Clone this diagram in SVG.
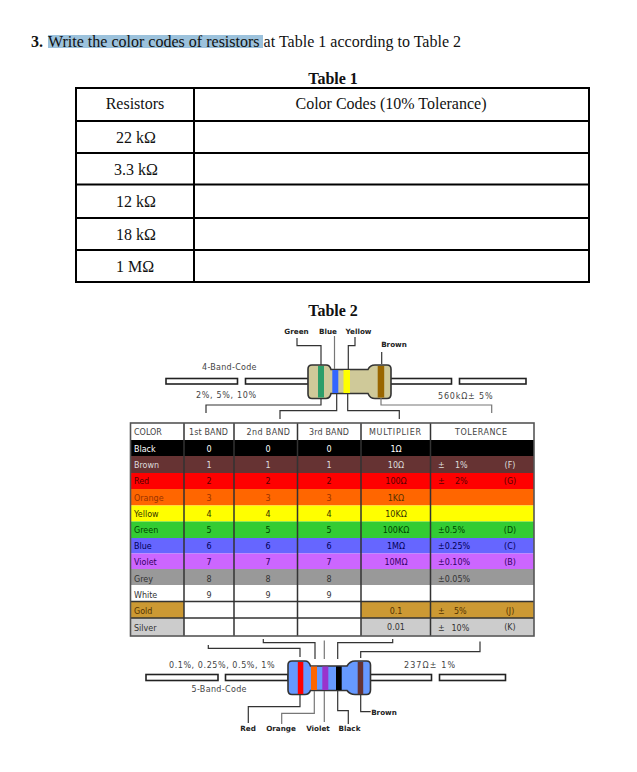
<svg xmlns="http://www.w3.org/2000/svg" width="637" height="772" viewBox="0 0 637 772">
<style>
.s{font-family:"Liberation Serif","Times New Roman",serif;fill:#111;font-size:16px}
.b{font-weight:bold}
.m{text-anchor:middle}
.t{font-family:"DejaVu Sans",Verdana,sans-serif;font-size:8px;fill:#444}
.l{font-family:"DejaVu Sans",Verdana,sans-serif;font-size:7.200px;font-weight:bold;fill:#222}
.line{fill:none;stroke:#000;stroke-width:2}
.wire{fill:#fff;stroke:#222;stroke-width:1.6}
.body{stroke:#333;stroke-width:1.6}
.c{fill:none;stroke:#333;stroke-width:1.2}
.g{fill:none;stroke:#777;stroke-width:1.2}
.d{fill:none;stroke:#333;stroke-width:1.5}
.k{fill:#fff}.n{fill:#ddd}.r{fill:#500}.o{fill:#930}.y{fill:#330}.e{fill:#040}.u{fill:#005}.v{fill:#306}.a{fill:#333}.h{fill:#530}
</style>
<g id="question">
<rect x="48" y="35" width="215" height="13" fill="#9cc2dc"/>
<text class="s b" x="31" y="47">3.</text>
<text class="s" x="48" y="47" textLength="413">Write the color codes of resistors at Table 1 according to Table 2</text>
</g>
<g id="table1">
<text class="s b m" x="333" y="84">Table 1</text>
<rect class="line" x="76" y="88" width="513" height="194"/>
<path class="line" d="M194 88V282M76 121H589M76 153H589M76 184.500H589M76 218H589M76 250H589"/>
<text class="s m" x="135" y="109">Resistors</text>
<text class="s m" x="391" y="109">Color Codes (10% Tolerance)</text>
<text class="s m" x="136" y="143">22 kΩ</text>
<text class="s m" x="136" y="175">3.3 kΩ</text>
<text class="s m" x="136" y="207">12 kΩ</text>
<text class="s m" x="136" y="240">18 kΩ</text>
<text class="s m" x="135" y="272">1 MΩ</text>
</g>
<g id="table2">
<text class="s b m" x="333" y="316">Table 2</text>
<rect x="130" y="423" width="404" height="213" fill="#fff"/>
<rect x="131" y="440" width="403" height="16" fill="#000"/>
<rect x="131" y="456" width="403" height="17" fill="#663333"/>
<rect x="131" y="473" width="403" height="16" fill="#ff0000"/>
<rect x="131" y="489" width="403" height="16.500" fill="#ff6600"/>
<rect x="131" y="505.500" width="403" height="16" fill="#ffff00"/>
<rect x="131" y="521.500" width="403" height="16.500" fill="#33cc33"/>
<rect x="131" y="538" width="403" height="15.500" fill="#6666ff"/>
<rect x="131" y="553.500" width="403" height="15.500" fill="#cc66ff"/>
<rect x="131" y="569" width="403" height="16" fill="#999999"/>
<rect x="131" y="602" width="53" height="16.500" fill="#cc9933"/>
<rect x="361" y="602" width="173" height="16.500" fill="#cc9933"/>
<rect x="131" y="618.500" width="53" height="17" fill="#cccccc"/>
<rect x="361" y="618.500" width="173" height="17" fill="#cccccc"/>
<path class="d" d="M184 423V636M234 423V636M297.500 423V636M361 423V636M430.500 423V636M130 601.500H534M130 618H534"/>
<rect x="130.500" y="423" width="403.500" height="213" fill="none" stroke="#555" stroke-width="1.600"/>
<g class="t">
<text x="134" y="435">COLOR</text><text x="189" y="435" textLength="39">1st BAND</text><text x="246.500" y="435" textLength="43.500">2nd BAND</text><text x="309" y="435" textLength="40">3rd BAND</text><text x="369" y="435" textLength="52">MULTIPLIER</text><text x="455" y="435" textLength="52">TOLERANCE</text>
<text class="k" x="134" y="451.500">Black</text><text class="k m" x="209" y="451.500">0</text><text class="k m" x="268" y="451.500">0</text><text class="k m" x="329" y="451.500">0</text><text class="k m" x="396" y="451.500">1Ω</text>
<text class="n" x="134" y="468">Brown</text><text class="n m" x="209" y="468">1</text><text class="n m" x="268" y="468">1</text><text class="n m" x="329" y="468">1</text><text class="n m" x="396" y="468">10Ω</text><text class="n" x="438" y="468">±</text><text class="n" x="455" y="468">1%</text><text class="n m" x="510" y="468">(F)</text>
<text class="r" x="134" y="484">Red</text><text class="r m" x="209" y="484">2</text><text class="r m" x="268" y="484">2</text><text class="r m" x="329" y="484">2</text><text class="r m" x="396" y="484">100Ω</text><text class="r" x="438" y="484">±</text><text class="r" x="455" y="484">2%</text><text class="r m" x="510" y="484">(G)</text>
<text class="o" x="134" y="500.500">Orange</text><text class="o m" x="209" y="500.500">3</text><text class="o m" x="268" y="500.500">3</text><text class="o m" x="329" y="500.500">3</text><text class="h m" x="396" y="500.500">1KΩ</text>
<text class="y" x="134" y="517">Yellow</text><text class="y m" x="209" y="517">4</text><text class="y m" x="268" y="517">4</text><text class="y m" x="329" y="517">4</text><text class="y m" x="396" y="517">10KΩ</text>
<text class="e" x="134" y="533">Green</text><text class="e m" x="209" y="533">5</text><text class="e m" x="268" y="533">5</text><text class="e m" x="329" y="533">5</text><text class="e m" x="396" y="533">100KΩ</text><text class="e" x="438" y="533">±0.5%</text><text class="e m" x="510" y="533">(D)</text>
<text class="u" x="134" y="549">Blue</text><text class="u m" x="209" y="549">6</text><text class="u m" x="268" y="549">6</text><text class="u m" x="329" y="549">6</text><text class="u m" x="396" y="549">1MΩ</text><text class="u" x="438" y="549">±0.25%</text><text class="u m" x="510" y="549">(C)</text>
<text class="v" x="134" y="565">Violet</text><text class="v m" x="209" y="565">7</text><text class="v m" x="268" y="565">7</text><text class="v m" x="329" y="565">7</text><text class="v m" x="396" y="565">10MΩ</text><text class="v" x="438" y="565">±0.10%</text><text class="v m" x="510" y="565">(B)</text>
<text class="a" x="134" y="581.500">Grey</text><text class="a m" x="209" y="581.500">8</text><text class="a m" x="268" y="581.500">8</text><text class="a m" x="329" y="581.500">8</text><text class="a" x="438" y="581.500">±0.05%</text>
<text class="a" x="134" y="597.500">White</text><text class="a m" x="209" y="597.500">9</text><text class="a m" x="268" y="597.500">9</text><text class="a m" x="329" y="597.500">9</text>
<text class="h" x="134" y="614">Gold</text><text class="h m" x="396" y="614">0.1</text><text class="h" x="438" y="614">±</text><text class="h" x="454" y="614">5%</text><text class="h m" x="510" y="614">(J)</text>
<text class="a" x="134" y="631">Silver</text><text class="a m" x="396" y="630">0.01</text><text class="a" x="438" y="631">±</text><text class="a" x="451.500" y="631">10%</text><text class="a m" x="510" y="630">(K)</text>
</g>
</g>
<g id="resistor4">
<rect class="wire" x="166" y="378.500" width="71.500" height="5.500"/>
<rect class="wire" x="245.500" y="378.500" width="63" height="5.500"/>
<rect class="wire" x="390" y="378.500" width="61.500" height="5.500"/>
<rect class="wire" x="459.500" y="378.500" width="66.500" height="5.500"/>
<path class="body" fill="#cfc999" d="M312 365H326Q330 365 331 369.500H368Q370 365 375 365H387Q391 365 391 369V394Q391 398.500 387 398.500H375Q370 398.500 368 393.500H331Q330 398.500 326 398.500H312Q308 398.500 308 394V369Q308 365 312 365Z"/>
<rect x="318" y="366" width="6" height="31.500" fill="#2e9e6a"/>
<rect x="332.300" y="370" width="6" height="23" fill="#3366ff"/>
<rect x="343.500" y="370" width="6.500" height="23" fill="#ffff00"/>
<rect x="377.700" y="366" width="6.500" height="31.500" fill="#996600"/>
<g class="t">
<text x="202" y="370" textLength="54.500">4-Band-Code</text>
<text x="196" y="397.500" textLength="60">2%, 5%, 10%</text>
<text x="438" y="399" textLength="54.500">560kΩ± 5%</text>
</g>
<g class="l">
<text class="m" x="296.500" y="333.500">Green</text>
<text class="m" x="328" y="333.500">Blue</text>
<text class="m" x="358.500" y="333.500">Yellow</text>
<text class="m" x="394" y="346.500">Brown</text>
</g>
</g>
<g id="resistor5">
<rect class="wire" x="146" y="674.500" width="72" height="6"/>
<rect class="wire" x="225.500" y="674.500" width="62.500" height="6"/>
<rect class="wire" x="370" y="674.500" width="61.500" height="6"/>
<rect class="wire" x="439.500" y="674.500" width="66" height="6"/>
<path class="body" fill="#6699ff" d="M292 661H305Q309 661 310.500 666H347Q350 661 355 661H366.500Q370.500 661 370.500 665V690Q370.500 694.500 366.500 694.500H355Q350 694.500 347 690.500H310.500Q309 694.500 305 694.500H292Q288 694.500 288 690V665Q288 661 292 661Z"/>
<rect x="297.800" y="662" width="5.500" height="32" fill="#ff0000"/>
<rect x="311" y="666.500" width="6" height="23.500" fill="#ff6600"/>
<rect x="322.300" y="666.500" width="6" height="23.500" fill="#9933cc"/>
<rect x="336" y="666.500" width="5.700" height="23.500" fill="#000"/>
<rect x="357.700" y="662" width="5.500" height="32" fill="#663333"/>
<g class="t">
<text x="169" y="668" textLength="105.500">0.1%, 0.25%, 0.5%, 1%</text>
<text x="191.500" y="692" textLength="55">5-Band-Code</text>
<text x="404" y="668" textLength="51">237Ω± 1%</text>
</g>
<g class="l">
<text class="m" x="248" y="731">Red</text>
<text class="m" x="281" y="731">Orange</text>
<text class="m" x="318" y="731">Violet</text>
<text class="m" x="349.500" y="731">Black</text>
<text class="m" x="384" y="714.500">Brown</text>
</g>
</g>
<g id="connectors">
<path class="c" d="M297 338V345.700H321V365"/>
<path class="g" d="M334.500 336V369"/>
<path class="c" d="M355 337V345.700H348.300V369"/>
<path class="c" d="M381.700 352V364"/>
<path class="c" d="M321 398V405H206V413"/>
<path class="c" d="M336.700 394V410.700H280V419"/>
<path class="c" d="M347.700 394V410.700H399.300V419"/>
<path class="g" d="M381 398V405H491.700V413"/>
<path class="c" d="M208.300 645V648.300H300V657"/>
<path class="c" d="M263.300 639V642.700H315V659"/>
<path class="g" d="M324.300 640.500V659"/>
<path class="c" d="M392.700 639V642.700H337.700V659"/>
<path class="c" d="M480 641.500V651.700H360.700V658"/>
<path class="c" d="M300 694V706.700H248.300V723"/>
<path class="g" d="M314.300 691V713.300H281.700V724"/>
<path class="g" d="M324.300 691V722"/>
<path class="c" d="M337.700 691V710.700H348.300V724"/>
<path class="c" d="M360.700 694V711.700H370.700"/>
</g>
</svg>
